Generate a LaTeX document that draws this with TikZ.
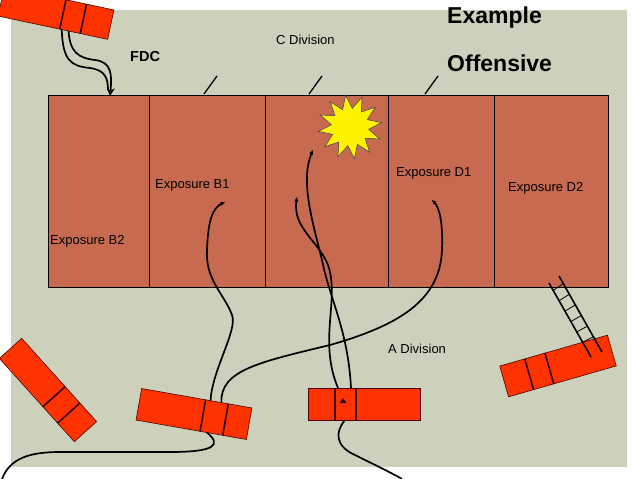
\documentclass[tikz,border=0pt]{standalone}
\usepackage{fontspec}
\setmainfont{Liberation Sans}
\usetikzlibrary{shapes.geometric,arrows.meta,calc}
\definecolor{bg}{HTML}{CDD1BC}
\definecolor{bld}{HTML}{C76A50}
\definecolor{trk}{HTML}{FF3300}
\begin{document}
\begin{tikzpicture}[x=1pt,y=-1pt,
  wall/.style={draw=black,fill=bld,line width=0.6pt},
  truck/.style={draw=black!70!red,fill=trk,line width=0.6pt},
  div/.style={draw=black!80!red,line width=1.6pt},
  hose/.style={line width=1.7pt},
  hosea/.style={hose,-{Stealth[length=5pt,width=4pt]}},
  lbl/.style={font=\fontsize{13}{15}\selectfont,inner sep=0pt,anchor=west}]
\useasboundingbox (0,0) rectangle (638,479);
\fill[white] (0,0) rectangle (638,479);
\fill[bg] (11,10) rectangle (627,467);
% building
\node[wall,rectangle,minimum width=560pt,minimum height=192pt,anchor=north west,inner sep=0pt] (bld) at (48,95) {};
\foreach \x in {149,265,388,494}{\draw[line width=0.8pt] (\x,95) -- (\x,287);}
\foreach \x in {204,309,425}{\draw[line width=1.3pt] (\x,94) -- (\x+13,76);}
\node[lbl] (b2) at (50,241) {Exposure B2};
\node[lbl] (b1) at (155,185) {Exposure B1};
\node[lbl] (d1) at (396,173) {Exposure D1};
\node[lbl] (d2) at (508,188) {Exposure D2};
\node[lbl] (cdiv) at (276,40) {C Division};
\node[lbl] (adiv) at (388,349) {A Division};
\node[lbl,font=\bfseries\fontsize{14.5}{17}\selectfont] (fdc) at (130,57) {FDC};
\node[lbl,font=\bfseries\fontsize{23}{27}\selectfont] (ex) at (447,18) {Example};
\node[lbl,font=\bfseries\fontsize{23}{27}\selectfont] (off) at (447,63) {Offensive};
% star
\node[star,star points=12,star point ratio=1.7,minimum size=64pt,inner sep=0pt,draw=black!70,fill=yellow,line width=0.6pt,rotate=8] (fire) at (350,127) {};
% trucks
\begin{scope}[shift={(56,13)},rotate=-12]
 \draw[truck] (-56,-15) rectangle (56,15);
 \draw[div] (7,-15) -- (7,15); \draw[div] (28,-15) -- (28,15);
 \coordinate (t1a) at (9,15); \coordinate (t1b) at (16,15);
\end{scope}
\begin{scope}[shift={(48,390)},rotate=-48]
 \draw[truck] (-56,-15) rectangle (56,15);
 \draw[div] (9,-15) -- (9,15); \draw[div] (31,-15) -- (31,15);
\end{scope}
\begin{scope}[shift={(194,414)},rotate=-10]
 \draw[truck] (-56,-16) rectangle (56,16);
 \draw[div] (9,-16) -- (9,16); \draw[div] (32,-16) -- (32,16);
 \coordinate (t3a) at (14,-16); \coordinate (t3b) at (25,-16); \coordinate (t3c) at (16,16);
\end{scope}
\begin{scope}[shift={(364,404)}]
 \draw[truck] (-56,-16) rectangle (56,16);
 \draw[div] (-29,-16) -- (-29,16); \draw[div] (-8,-16) -- (-8,16);
 \fill[black!80!red] (-21,-6) -- (-17.5,-1) -- (-24.5,-1) -- cycle;
 \coordinate (t4a) at (-26,-16); \coordinate (t4b) at (-13,-16); \coordinate (t4c) at (-19,16);
\end{scope}
\begin{scope}[shift={(558,366)},rotate=16]
 \draw[truck] (-56,-16) rectangle (56,16);
 \draw[div] (-30,-16) -- (-30,16); \draw[div] (-9,-16) -- (-9,16);
\end{scope}
% ladder
\coordinate (la1) at (549,283); \coordinate (la2) at (591,357);
\coordinate (lb1) at (559,276); \coordinate (lb2) at (602,352);
\draw[line width=1.6pt] (la1) -- (la2) (lb1) -- (lb2);
\foreach \t in {0.1,0.24,0.38,0.52,0.66,0.8}{\draw[line width=0.8pt] ($(la1)!\t!(la2)$) -- ($(lb1)!\t!(lb2)$);}
% hoses
\coordinate (fdcp) at (110,96);
\draw[hose] (t1a) .. controls (63,60) and (70,66) .. (90,68) .. controls (105,70) and (108,78) .. (108,90);
\draw[hose,-{Stealth[length=8pt,width=8pt]}] (t1b) .. controls (70,52) and (78,58) .. (95,60) .. controls (112,62) and (112,75) .. (fdcp);
\coordinate (e1) at (225,202);
\draw[hosea] (t3a) .. controls (212,370) and (238,330) .. (232,315) .. controls (225,295) and (205,280) .. (207,250) .. controls (208,222) and (212,208) .. (e1);
\coordinate (e2) at (432,200);
\draw[hosea] (t3b) .. controls (220,370) and (260,362) .. (330,345) .. controls (400,325) and (440,300) .. (442,250) .. controls (443,225) and (440,208) .. (e2);
\draw[hose] (t3c) .. controls (222,445) and (215,452) .. (170,452) -- (60,452) .. controls (30,452) and (10,458) .. (2,479);
\coordinate (e3) at (297,197);
\coordinate (e4) at (313,150);
\draw[hosea] (t4a) .. controls (318,340) and (340,300) .. (328,265) .. controls (318,240) and (292,228) .. (e3);
\draw[hosea] (t4b) .. controls (348,330) and (330,300) .. (322,260) .. controls (312,220) and (300,180) .. (e4);
\draw[hose] (t4c) .. controls (335,432) and (335,446) .. (355,455) .. controls (375,465) and (390,472) .. (402,479);
\end{tikzpicture}
\end{document}
